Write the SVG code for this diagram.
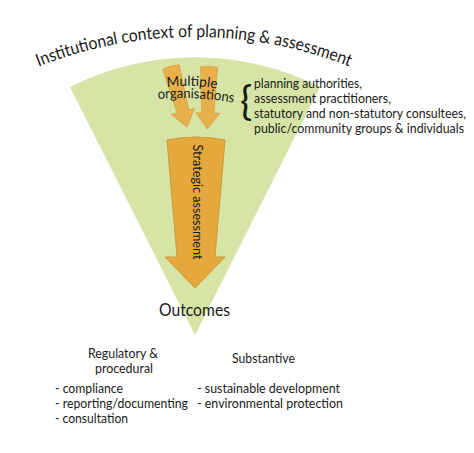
<svg xmlns="http://www.w3.org/2000/svg" width="474" height="453" viewBox="0 0 474 453">
<defs>
<style>
text{font-family:Lato,"Open Sans","Liberation Sans",sans-serif;fill:#1a1a1a}
.arr{fill:#e5a83c;stroke:#cf9a3a;stroke-width:1}
.sm{fill:#e8b04a;stroke:#d8a447;stroke-width:0.8}
.t13{font-size:13px}
</style>
<path id="titleArc" d="M20,74.6 A421,421 0 0 1 368,74.6"/>
<path id="multArc" d="M167,87 Q193,84 219,89"/>
<path id="orgArc" d="M158,99 Q195,96 236,103"/>
</defs>
<rect width="474" height="453" fill="#ffffff"/>
<g id="context">
<path d="M195,335 L70,87 A277,277 0 0 1 320,87 Z" fill="#d6e4a6"/>
<text font-size="17.5"><textPath href="#titleArc" startOffset="50%" text-anchor="middle" textLength="318" lengthAdjust="spacingAndGlyphs">Institutional context of planning &amp; assessment</textPath></text>
</g>
<g id="connectors">
<path class="sm" transform="translate(171,67) rotate(-15)" d="M-8.5,0 Q0,-2 8.5,0 L6,46 L12,46 L0,62 L-12,46 L-6,46 Z"/>
<path class="sm" transform="translate(209,67) rotate(1.5)" d="M-8.5,0 Q0,-2 8.5,0 L6,46 L12,46 L0,62 L-12,46 L-6,46 Z"/>
<path class="arr" d="M167,140 Q196,134 225,140 L215,257 L225,257 L195,288 L165,257 L177,257 Z"/>
</g>
<g id="multiple-organisations">
<text font-size="14"><textPath href="#multArc" textLength="50" lengthAdjust="spacingAndGlyphs">Multiple</textPath></text>
<text font-size="14"><textPath href="#orgArc" textLength="76" lengthAdjust="spacingAndGlyphs">organisations</textPath></text>
</g>
<g id="organisations-list">
<text x="240" y="115" font-size="41">{</text>
<text class="t13" x="254" y="88" textLength="108" lengthAdjust="spacingAndGlyphs">planning authorities,</text>
<text class="t13" x="254" y="103" textLength="137" lengthAdjust="spacingAndGlyphs">assessment practitioners,</text>
<text x="254" y="118" font-size="12.6" textLength="212" lengthAdjust="spacingAndGlyphs">statutory and non-statutory consultees,</text>
<text class="t13" x="254" y="133" textLength="210" lengthAdjust="spacingAndGlyphs">public/community groups &amp; individuals</text>
</g>
<g id="strategic-assessment">
<text font-size="14" transform="translate(193,202) rotate(90)" text-anchor="middle" textLength="115" lengthAdjust="spacingAndGlyphs">Strategic assessment</text>
</g>
<g id="outcomes">
<text x="159" y="316" font-size="17" textLength="71" lengthAdjust="spacingAndGlyphs">Outcomes</text>
</g>
<g id="regulatory">
<text class="t13" x="88" y="358" textLength="70" lengthAdjust="spacingAndGlyphs">Regulatory &amp;</text>
<text class="t13" x="95" y="373" textLength="58" lengthAdjust="spacingAndGlyphs">procedural</text>
<text class="t13" x="55" y="393" textLength="68" lengthAdjust="spacingAndGlyphs">- compliance</text>
<text class="t13" x="55" y="408" textLength="133" lengthAdjust="spacingAndGlyphs">- reporting/documenting</text>
<text class="t13" x="55" y="423" textLength="73" lengthAdjust="spacingAndGlyphs">- consultation</text>
</g>
<g id="substantive">
<text class="t13" x="232" y="363" textLength="63" lengthAdjust="spacingAndGlyphs">Substantive</text>
<text class="t13" x="197" y="393" textLength="143" lengthAdjust="spacingAndGlyphs">- sustainable development</text>
<text class="t13" x="197" y="408" textLength="146" lengthAdjust="spacingAndGlyphs">- environmental protection</text>
</g>
</svg>
